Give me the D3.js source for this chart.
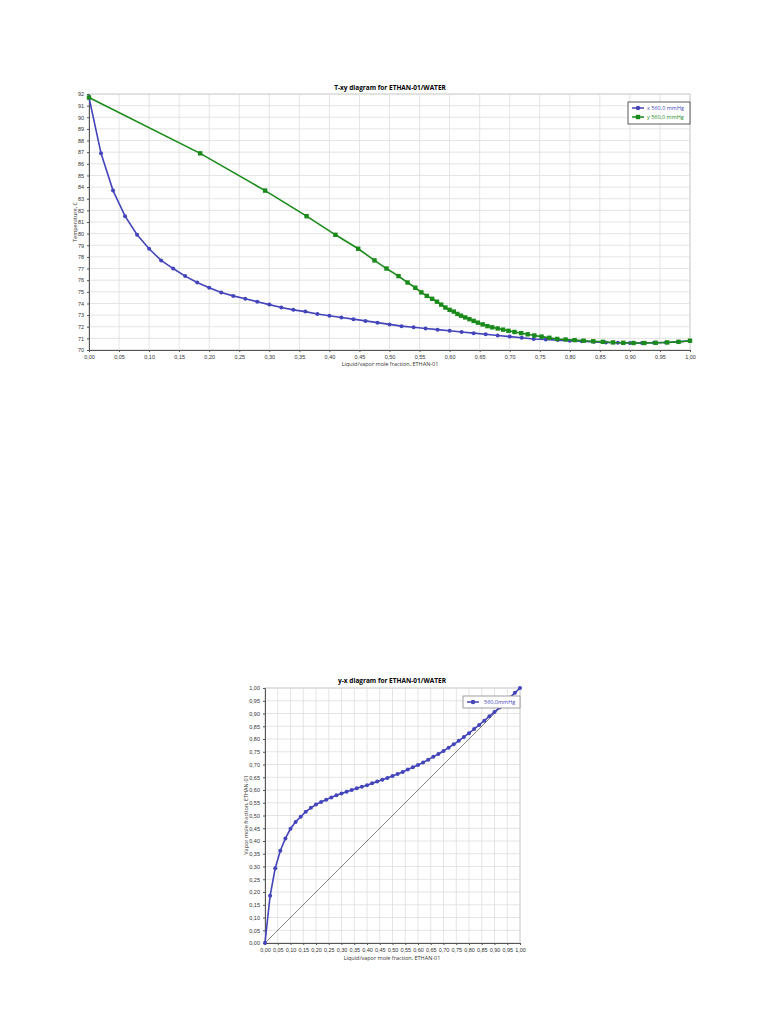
<!DOCTYPE html>
<html><head><meta charset="utf-8">
<script src="https://cdn.jsdelivr.net/npm/d3@7/dist/d3.min.js"></script>
<style>body{margin:0;background:#fff}svg{display:block;font-family:"Open Sans",sans-serif}</style>
</head><body>
<svg id="c" width="768" height="1024"></svg>
<script>
const xLiq = d3.range(51).map(i => +(i*0.02).toFixed(2));
const tempC = [91.7,86.9,83.7,81.5,79.9,78.7,77.7,77.0,76.35,75.8,75.35,74.95,74.65,74.4,74.15,73.9,73.65,73.45,73.3,73.1,72.95,72.8,72.65,72.5,72.35,72.2,72.05,71.95,71.85,71.75,71.65,71.55,71.45,71.35,71.25,71.15,71.05,70.95,70.9,70.85,70.8,70.75,70.7,70.65,70.62,70.6,70.6,70.62,70.65,70.7,70.8];
const yVap = [0,0.185,0.293,0.362,0.41,0.448,0.475,0.495,0.515,0.53,0.543,0.553,0.562,0.571,0.579,0.586,0.593,0.600,0.607,0.613,0.619,0.626,0.633,0.640,0.647,0.655,0.663,0.671,0.680,0.689,0.698,0.708,0.719,0.730,0.741,0.753,0.766,0.779,0.793,0.808,0.823,0.839,0.855,0.872,0.889,0.906,0.924,0.943,0.962,0.981,1.0];
const xTicks = d3.range(21).map(i => +(i*0.05).toFixed(2));
const tTicks = d3.range(70,93);
const fmt = d => d.toFixed(2).replace('.',',');
const BLUE="#4444bb", GREEN="#1a8a1a";
const svg = d3.select("#c");

function grid(g,x,y,xt,yt,w,h){
  g.append("rect").attr("width",w).attr("height",h).attr("fill","none").attr("stroke","#ccc");
  g.selectAll(".gx").data(xt).enter().append("line").attr("x1",d=>x(d)).attr("x2",d=>x(d)).attr("y1",0).attr("y2",h).attr("stroke","#ddd").attr("stroke-width",0.8);
  g.selectAll(".gy").data(yt).enter().append("line").attr("y1",d=>y(d)).attr("y2",d=>y(d)).attr("x1",0).attr("x2",w).attr("stroke","#ddd").attr("stroke-width",0.8);
}
function axes(g,x,y,xt,yt,h,xf,yf){
  const ax=g.append("g").attr("transform",`translate(0,${h})`).call(d3.axisBottom(x).tickValues(xt).tickFormat(xf).tickSize(2));
  const ay=g.append("g").call(d3.axisLeft(y).tickValues(yt).tickFormat(yf).tickSize(2));
  [ax,ay].forEach(a=>{a.selectAll("text").attr("font-size",5.5).attr("fill","#333");a.selectAll("line,path").attr("stroke","#555");});
}
// Top chart
{
  const L=89,T=94,W=601,H=256;
  const g=svg.append("g").attr("transform",`translate(${L},${T})`);
  const x=d3.scaleLinear().domain([0,1]).range([0,W]);
  const y=d3.scaleLinear().domain([70,92]).range([H,0]);
  grid(g,x,y,xTicks,tTicks,W,H);
  axes(g,x,y,xTicks,tTicks,H,fmt,d=>d);
  const line=d3.line().x(d=>x(d[0])).y(d=>y(d[1]));
  const liq=xLiq.map((v,i)=>[v,tempC[i]]), vap=yVap.map((v,i)=>[v,tempC[i]]);
  g.append("path").datum(liq).attr("d",line).attr("fill","none").attr("stroke",BLUE).attr("stroke-width",1.6);
  g.selectAll(".pb").data(liq).enter().append("circle").attr("cx",d=>x(d[0])).attr("cy",d=>y(d[1])).attr("r",2).attr("fill",BLUE);
  g.append("path").datum(vap).attr("d",line).attr("fill","none").attr("stroke",GREEN).attr("stroke-width",1.6);
  g.selectAll(".pg").data(vap).enter().append("rect").attr("x",d=>x(d[0])-2.2).attr("y",d=>y(d[1])-2.2).attr("width",4.4).attr("height",4.4).attr("fill",GREEN);
  svg.append("text").attr("x",390).attr("y",90).attr("text-anchor","middle").attr("font-size",6.5).attr("font-weight","bold").text("T-xy diagram for ETHAN-01/WATER");
  svg.append("text").attr("x",390).attr("y",366).attr("text-anchor","middle").attr("font-size",5.5).attr("fill","#333").text("Liquid/vapor mole fraction, ETHAN-01");
  svg.append("text").attr("transform","translate(77,222) rotate(-90)").attr("text-anchor","middle").attr("font-size",5.5).attr("fill","#333").text("Temperature, C");
  const lg=svg.append("g").attr("transform","translate(628,102)");
  lg.append("rect").attr("width",62).attr("height",22).attr("fill","#fff").attr("stroke","#333").attr("stroke-width",0.8);
  lg.append("line").attr("x1",4).attr("x2",16).attr("y1",6).attr("y2",6).attr("stroke",BLUE).attr("stroke-width",1.5);
  lg.append("circle").attr("cx",10).attr("cy",6).attr("r",2.2).attr("fill",BLUE);
  lg.append("text").attr("x",19).attr("y",8).attr("font-size",5.5).attr("fill",BLUE).text("x  560,0 mmHg");
  lg.append("line").attr("x1",4).attr("x2",16).attr("y1",15).attr("y2",15).attr("stroke",GREEN).attr("stroke-width",1.5);
  lg.append("rect").attr("x",7.8).attr("y",12.8).attr("width",4.4).attr("height",4.4).attr("fill",GREEN);
  lg.append("text").attr("x",19).attr("y",17).attr("font-size",5.5).attr("fill",GREEN).text("y  560,0 mmHg");
}
// Bottom chart
{
  const L=265,T=688,W=255,H=255;
  const g=svg.append("g").attr("transform",`translate(${L},${T})`);
  const x=d3.scaleLinear().domain([0,1]).range([0,W]);
  const y=d3.scaleLinear().domain([0,1]).range([H,0]);
  grid(g,x,y,xTicks,xTicks,W,H);
  axes(g,x,y,xTicks,xTicks,H,fmt,fmt);
  g.append("line").attr("x1",x(0)).attr("y1",y(0)).attr("x2",x(1)).attr("y2",y(1)).attr("stroke","#333").attr("stroke-width",0.6);
  const pts=xLiq.map((v,i)=>[v,yVap[i]]);
  g.append("path").datum(pts).attr("d",d3.line().x(d=>x(d[0])).y(d=>y(d[1]))).attr("fill","none").attr("stroke",BLUE).attr("stroke-width",1.6);
  g.selectAll(".p").data(pts).enter().append("circle").attr("cx",d=>x(d[0])).attr("cy",d=>y(d[1])).attr("r",2).attr("fill",BLUE);
  svg.append("text").attr("x",392).attr("y",683).attr("text-anchor","middle").attr("font-size",6.5).attr("font-weight","bold").text("y-x diagram for ETHAN-01/WATER");
  svg.append("text").attr("x",392).attr("y",960).attr("text-anchor","middle").attr("font-size",5.5).attr("fill","#333").text("Liquid/vapor mole fraction, ETHAN-01");
  svg.append("text").attr("transform","translate(248,815) rotate(-90)").attr("text-anchor","middle").attr("font-size",5.5).attr("fill","#333").text("Vapor mole fraction, ETHAN-01");
  const lg=svg.append("g").attr("transform","translate(463,696)");
  lg.append("rect").attr("width",57).attr("height",12).attr("fill","#fff").attr("stroke","#888").attr("stroke-width",0.8);
  lg.append("line").attr("x1",4).attr("x2",16).attr("y1",6).attr("y2",6).attr("stroke",BLUE).attr("stroke-width",1.5);
  lg.append("circle").attr("cx",10).attr("cy",6).attr("r",2.2).attr("fill",BLUE);
  lg.append("text").attr("x",21).attr("y",8).attr("font-size",5.5).attr("fill",BLUE).text("560,0mmHg");
}
</script>
</body></html>
